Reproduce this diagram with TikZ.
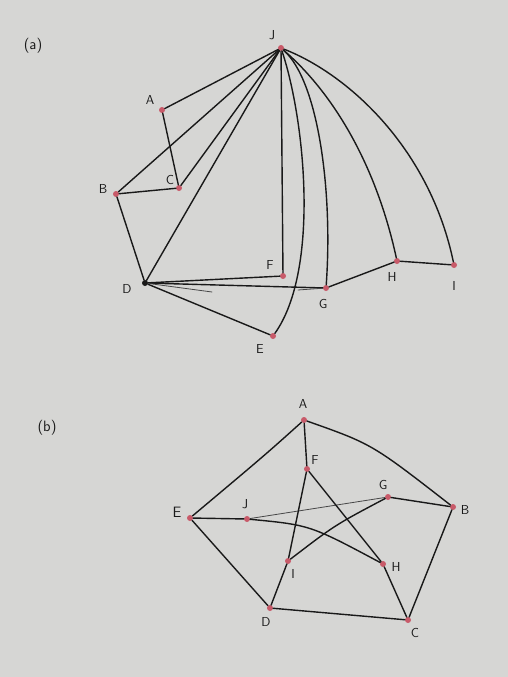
\documentclass[tikz,border=0pt]{standalone}
\definecolor{paper}{RGB}{214,214,212}
\definecolor{dotc}{RGB}{200,90,105}
\definecolor{ink}{RGB}{25,25,25}
\tikzset{
  dot/.style={circle,fill=dotc,inner sep=0pt,minimum size=6pt},
  lab/.style={inner sep=0pt,font=\sffamily\fontsize{13}{13}\selectfont,text=ink},
  part/.style={inner sep=0pt,font=\sffamily\fontsize{15}{15}\selectfont,text=ink},
  edge/.style={draw=ink,line width=1.4pt,line cap=round},
  thin edge/.style={draw=ink!80,line width=0.8pt,line cap=round}
}
\begin{document}
\begin{tikzpicture}[x=1pt,y=-1pt]
\fill[paper] (0,0) rectangle (508,677);
\useasboundingbox (0,0) rectangle (508,677);

% ---------- (a) ----------
\node[part] (pa) at (33,46) {(a)};
\node[dot] (aJ) at (281,48) {};
\node[dot] (aA) at (162,110) {};
\node[dot] (aC) at (179,188) {};
\node[dot] (aB) at (116,194) {};
\node[dot,fill=ink] (aD) at (145,283) {};
\node[dot] (aF) at (283,276) {};
\node[dot] (aE) at (273,336) {};
\node[dot] (aG) at (326,288) {};
\node[dot] (aH) at (397,261) {};
\node[dot] (aI) at (454,265) {};

\node[lab] (laJ) at (272,35) {J};
\node[lab] (laA) at (150,100) {A};
\node[lab] (laC) at (170,180) {C};
\node[lab] (laB) at (103,189) {B};
\node[lab] (laD) at (127,289) {D};
\node[lab] (laF) at (270,265) {F};
\node[lab] (laE) at (260,349) {E};
\node[lab] (laG) at (323,304) {G};
\node[lab] (laH) at (392,277) {H};
\node[lab] (laI) at (454,286) {I};

\draw[edge] (aJ) -- (aA);
\draw[edge] (aA) -- (aC);
\draw[edge] (aC) -- (aB);
\draw[edge] (aB) -- (aD);
\draw[edge] (aJ) -- (aB);
\draw[edge] (aJ) -- (aC);
\draw[edge] (aJ) -- (aD);
\draw[edge] (aJ) -- (aF);
\draw[edge] (aJ) .. controls (305,120) and (320,270) .. (aE);
\draw[edge] (aJ) .. controls (318,80) and (333,190) .. (aG);
\draw[edge] (aJ) .. controls (330,90) and (375,160) .. (aH);
\draw[edge] (aJ) .. controls (350,75) and (430,150) .. (aI);
\draw[edge] (aD) -- (aF);
\draw[edge] (aD) -- (aG);
\draw[edge] (aD) -- (aE);
\draw[edge] (aG) -- (aH);
\draw[edge] (aH) -- (aI);
\coordinate (dx1) at (212,292);
\coordinate (gx1) at (298,290);
\draw[thin edge] (aD) -- (dx1);
\draw[thin edge] (gx1) -- (aG);

% ---------- (b) ----------
\node[part] (pb) at (47,428) {(b)};
\node[dot] (bA) at (304,420) {};
\node[dot] (bF) at (307,469) {};
\node[dot] (bG) at (388,497) {};
\node[dot] (bB) at (453,507) {};
\node[dot] (bE) at (190,518) {};
\node[dot] (bJ) at (247,519) {};
\node[dot] (bI) at (288,561) {};
\node[dot] (bH) at (383,564) {};
\node[dot] (bD) at (270,608) {};
\node[dot] (bC) at (408,620) {};

\node[lab] (lbA) at (303,404) {A};
\node[lab] (lbF) at (315,460) {F};
\node[lab] (lbG) at (383,485) {G};
\node[lab] (lbB) at (465,510) {B};
\node[lab,font=\sffamily\fontsize{15}{15}\selectfont] (lbE) at (177,512) {E};
\node[lab] (lbJ) at (245,504) {J};
\node[lab] (lbI) at (293,574) {I};
\node[lab] (lbH) at (396,567) {H};
\node[lab] (lbD) at (266,622) {D};
\node[lab] (lbC) at (415,633) {C};

\draw[edge] (bA) .. controls (372,444) .. (bB);
\draw[edge] (bA) .. controls (265,455) .. (bE);
\draw[edge] (bA) -- (bF);
\draw[edge] (bE) -- (bJ);
\draw[edge] (bE) -- (bD);
\draw[thin edge] (bJ) -- (bG);
\draw[edge] (bJ) .. controls (310,525) .. (bH);
\draw[edge] (bF) -- (bI);
\draw[edge] (bF) -- (bH);
\draw[edge] (bG) -- (bB);
\draw[edge] (bG) .. controls (335,525) .. (bI);
\draw[edge] (bB) -- (bC);
\draw[edge] (bI) -- (bD);
\draw[edge] (bH) -- (bC);
\draw[edge] (bD) -- (bC);
\end{tikzpicture}
\end{document}
